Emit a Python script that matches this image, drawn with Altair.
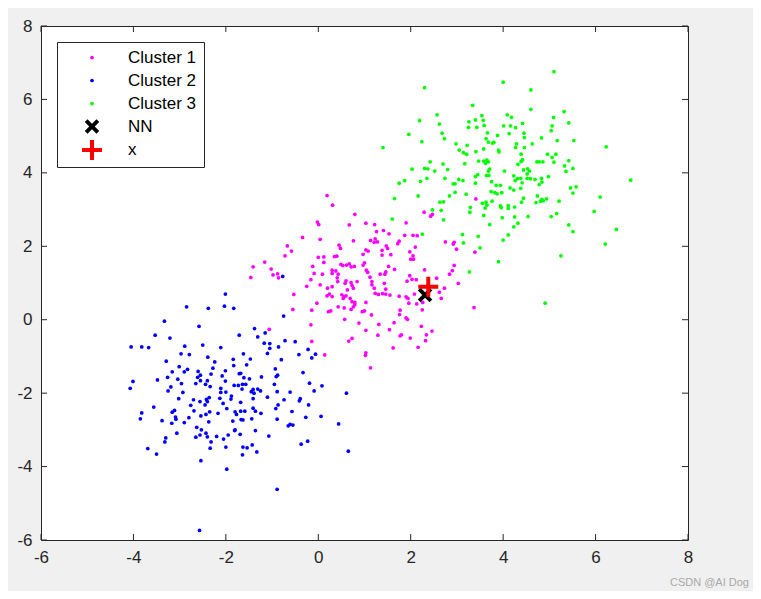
import altair as alt
import pandas as pd

# ---------------- data ----------------
cluster1_points = [
    (0.19, 3.38), (0.31, 3.12), (0.79, 2.87), (-0.02, 2.66), (0.01, 2.59), (0.67, 2.58), (-0.34, 2.24), (0.04, 2.19),
    (0.76, 2.15), (-0.67, 2.01), (-0.58, 1.87), (-0.72, 1.74), (0.45, 2.03), (0.48, 1.94), (0.00, 1.70), (0.12, 1.71),
    (0.35, 1.72), (0.40, 1.73), (0.12, 1.56), (-1.16, 1.57), (-1.41, 1.44), (-1.02, 1.38), (-1.46, 1.15), (-0.98, 1.22),
    (-0.88, 1.25), (-0.86, 1.14), (-0.12, 1.45), (0.30, 1.35), (0.38, 1.33), (0.43, 1.24), (0.41, 1.14), (0.49, 1.51),
    (0.53, 1.48), (0.61, 1.49), (0.67, 1.52), (0.71, 1.44), (0.78, 1.45), (0.30, 1.26), (-0.09, 1.26), (0.09, 1.24),
    (-0.16, 1.09), (0.60, 1.06), (0.58, 0.99), (0.71, 1.01), (-0.25, 0.91), (0.04, 0.95), (0.20, 0.86), (0.30, 0.90),
    (0.42, 1.04), (0.63, 0.81), (0.73, 0.93), (0.76, 0.86), (-0.53, 0.69), (0.19, 0.65), (0.24, 0.70), (0.30, 0.63),
    (0.51, 0.68), (0.56, 0.63), (0.54, 0.58), (0.60, 0.65), (0.73, 0.49), (0.79, 0.47), (-0.03, 0.45), (0.43, 0.35),
    (0.56, 0.32), (0.71, 0.28), (-0.55, 0.28), (-0.14, 0.26), (0.22, 0.22), (0.27, 0.24), (0.57, 0.01), (-0.16, -0.14),
    (-1.06, -0.26), (0.73, -0.51), (0.66, -0.58), (-0.14, -0.59), (0.14, -0.96),
    (2.29, 2.93), (2.47, 2.87), (2.43, 2.82), (1.03, 2.63), (1.22, 2.59), (1.90, 2.64), (1.26, 2.40), (1.41, 2.43),
    (1.53, 2.34), (1.13, 2.16), (1.23, 2.20), (1.28, 2.12), (1.21, 2.11), (1.75, 2.14), (1.72, 2.07), (1.87, 2.30),
    (2.05, 2.30), (2.14, 2.29), (2.75, 2.12), (2.94, 2.11), (2.92, 2.06), (2.99, 1.92), (1.47, 2.01), (1.50, 1.94),
    (2.10, 1.98), (1.03, 1.90), (1.08, 1.87), (1.38, 1.89), (0.97, 1.78), (1.38, 1.76), (1.57, 1.77), (1.98, 1.85),
    (2.05, 1.74), (2.00, 1.65), (2.06, 1.65), (1.00, 1.55), (0.97, 1.49), (1.04, 1.35), (1.07, 1.29), (1.52, 1.45),
    (1.65, 1.37), (1.46, 1.30), (1.44, 1.24), (1.34, 1.24), (2.30, 1.36), (2.94, 1.48), (2.90, 1.34), (2.84, 1.24),
    (1.12, 1.16), (1.16, 1.04), (1.98, 1.20), (2.03, 1.10), (2.12, 1.09), (1.92, 1.05), (2.56, 1.13), (3.03, 0.99),
    (0.84, 1.04), (1.16, 0.95), (1.21, 0.86), (1.43, 0.99), (1.46, 0.83), (1.23, 0.72), (1.30, 0.69), (1.39, 0.71),
    (1.46, 0.70), (1.55, 0.67), (1.75, 0.64), (1.90, 0.62), (2.08, 0.70), (2.62, 0.75), (2.73, 0.86), (2.66, 0.58),
    (0.69, 0.58), (0.79, 0.41), (0.76, 0.35), (1.03, 0.47), (0.95, 0.22), (1.00, 0.24), (1.94, 0.58), (2.13, 0.43),
    (2.26, 0.47), (1.96, 0.45), (1.77, 0.26), (2.25, 0.27), (1.76, 0.14), (1.15, 0.13), (1.90, 0.05), (1.93, 0.01),
    (1.64, -0.08), (0.88, -0.09), (1.31, -0.13), (2.23, -0.18), (1.03, -0.29), (1.54, -0.27), (1.80, -0.41),
    (1.77, -0.44), (2.46, -0.31), (2.34, -0.41), (1.29, -0.42), (1.99, -0.50), (2.32, -0.57), (2.16, -0.75),
    (1.62, -0.77), (1.03, -0.90), (1.02, -0.97), (1.13, -1.31), (3.41, 3.29), (3.39, 1.84), (3.37, 0.33), (2.31, 0.67),
]

cluster2_points = [
    (-2.01, 0.70), (-2.85, 0.35), (-2.38, 0.31), (-2.03, 0.37), (-1.83, 0.31), (-3.33, -0.04), (-2.58, -0.18),
    (-3.53, -0.42), (-3.21, -0.50), (-1.71, -0.42), (-4.05, -0.74), (-3.82, -0.74), (-3.67, -0.76), (-2.89, -0.72),
    (-2.50, -0.69), (-2.11, -0.76), (-2.97, -0.93), (-2.79, -0.95), (-2.39, -1.02), (-1.84, -1.08), (-3.29, -1.13),
    (-2.24, -1.15), (-1.83, -1.25), (-3.01, -1.28), (-3.16, -1.42), (-2.83, -1.35), (-2.90, -1.42), (-2.60, -1.41),
    (-2.28, -1.32), (-2.01, -1.39), (-1.71, -1.47), (-3.26, -1.57), (-2.55, -1.51), (-2.61, -1.57), (-2.32, -1.48),
    (-2.08, -1.53), (-4.01, -1.68), (-3.48, -1.64), (-3.04, -1.62), (-2.55, -1.66), (-2.40, -1.66), (-2.01, -1.67),
    (-2.65, -1.74), (-2.96, -1.74), (-2.44, -1.76), (-4.07, -1.87), (-3.19, -1.83), (-2.34, -1.82), (-2.11, -1.87),
    (-1.82, -1.79), (-1.73, -1.79), (-3.25, -1.94), (-2.93, -1.98), (-2.11, -1.98), (-2.00, -1.97), (-1.88, -2.08),
    (-3.02, -2.15), (-2.70, -2.18), (-2.42, -2.17), (-2.36, -2.12),
    (-1.89, -2.16), (-2.56, -2.23), (-2.40, -2.23), (-2.13, -2.14), (-2.06, -2.28), (-2.45, -2.32), (-2.76, -2.33),
    (-3.56, -2.38), (-1.98, -2.42), (-2.69, -2.48), (-3.11, -2.47), (-3.16, -2.52), (-2.35, -2.51), (-3.82, -2.54),
    (-3.85, -2.70), (-2.17, -2.55), (-2.43, -2.58), (-2.54, -2.62), (-3.09, -2.65), (-3.08, -2.71), (-2.80, -2.67),
    (-3.38, -2.75), (-3.17, -2.82), (-2.90, -2.80), (-2.37, -2.78), (-1.85, -2.76), (-2.63, -2.93), (-2.53, -3.00),
    (-2.43, -3.09), (-3.06, -3.09), (-2.56, -3.14), (-2.65, -3.20), (-2.40, -3.19), (-2.20, -3.18), (-2.05, -3.25),
    (-1.95, -3.14), (-1.81, -3.02), (-3.30, -3.22), (-3.32, -3.33), (-2.32, -3.33), (-2.34, -3.50), (-2.00, -3.47),
    (-3.69, -3.51), (-3.50, -3.66), (-2.54, -3.84), (-1.98, -4.07), (-2.57, -5.74),
    (-0.75, 0.10), (-1.38, -0.24), (-1.15, -0.36), (-1.31, -0.47), (-1.17, -0.64), (-1.05, -0.65), (-0.72, -0.57),
    (-0.50, -0.60), (-0.86, -0.74), (-1.05, -0.78), (-0.22, -0.81), (-1.10, -0.92), (-1.62, -0.93), (-0.42, -0.95),
    (-0.06, -0.94), (-0.14, -1.04), (-1.47, -1.07), (-0.80, -1.09), (-1.55, -1.23), (-0.93, -1.34), (-1.68, -1.46),
    (-0.88, -1.51), (-0.91, -1.55), (-1.23, -1.56), (-1.61, -1.58), (-0.33, -1.44), (-1.49, -1.61), (-1.64, -1.76),
    (-1.57, -1.76), (-0.95, -1.76), (-0.19, -1.73), (0.08, -1.80), (-1.65, -1.89), (-1.41, -1.90), (-1.45, -1.96),
    (-1.39, -2.00), (-1.31, -1.89), (-1.25, -1.94), (-0.89, -1.96), (-0.61, -1.97), (-0.09, -1.94), (0.61, -2.00),
    (-1.10, -2.11), (-0.74, -2.18), (-1.41, -2.15), (-0.39, -2.15), (-0.77, 1.18),
    (-0.41, -2.21), (-1.68, -2.25), (-0.87, -2.32), (-0.21, -2.32), (-0.92, -2.42), (-1.80, -2.51), (-1.77, -2.58),
    (-1.68, -2.49), (-1.59, -2.49), (-1.41, -2.41), (-1.36, -2.49), (-1.24, -2.55), (-0.57, -2.50), (-1.67, -2.72),
    (-1.63, -2.73), (-1.44, -2.70), (-0.89, -2.71), (-0.27, -2.66), (0.06, -2.63), (-0.65, -2.89), (-0.61, -2.85),
    (-0.55, -2.87), (0.44, -2.84), (-1.80, -3.00), (-1.36, -3.02), (-1.69, -3.12), (-1.07, -3.17), (-1.63, -3.47),
    (-1.54, -3.49), (-1.43, -3.41), (-0.37, -3.39), (-0.23, -3.31), (-1.33, -3.60), (-1.64, -3.68), (0.65, -3.58),
    (-0.89, -4.62),
]

cluster3_points = [
    (2.30, 6.32), (3.34, 5.84), (2.57, 5.58), (2.19, 5.42), (2.62, 5.33), (3.26, 5.39), (3.40, 5.44), (3.25, 5.24),
    (3.43, 5.24), (1.96, 5.05), (2.68, 5.08), (2.73, 4.93), (2.24, 4.85), (1.40, 4.69), (2.98, 4.79), (3.22, 4.75),
    (3.05, 4.62), (3.14, 4.55), (3.21, 4.51), (3.41, 4.58), (2.42, 4.30), (2.70, 4.24), (3.47, 4.32), (3.17, 4.25),
    (2.03, 4.10), (2.30, 4.12), (2.37, 4.11), (2.52, 4.05), (2.80, 4.09), (3.45, 3.95), (3.40, 3.90), (2.35, 3.85),
    (2.74, 3.85), (1.87, 3.79), (1.75, 3.72), (2.21, 3.77), (3.04, 3.82), (3.13, 3.79), (2.92, 3.70), (2.96, 3.70),
    (3.40, 3.72), (2.96, 3.47), (3.20, 3.42), (2.84, 3.37), (2.16, 3.37), (1.65, 3.30),
    (2.63, 3.20), (2.71, 3.21), (2.47, 2.99), (2.66, 2.98), (3.29, 3.06), (3.28, 2.93), (1.60, 2.74), (2.71, 2.72),
    (2.25, 2.33), (3.12, 2.32), (3.14, 2.09), (3.46, 2.27), (3.50, 1.96), (3.27, 1.30),
    (5.10, 6.76), (4.00, 6.47), (4.60, 6.26), (4.60, 5.73), (3.54, 5.56), (3.57, 5.43), (3.59, 5.29), (4.09, 5.58),
    (4.18, 5.51), (5.09, 5.51), (5.32, 5.67), (5.42, 5.36), (4.42, 5.35), (4.01, 5.28), (4.16, 5.28), (4.27, 5.23),
    (5.06, 5.28), (5.04, 5.15), (3.66, 5.09), (3.88, 5.02), (4.13, 5.07), (4.45, 5.08), (4.46, 4.96), (3.63, 4.93),
    (3.68, 4.84), (3.80, 4.83), (3.77, 4.81), (4.83, 4.95), (5.17, 4.88), (5.53, 4.88), (4.29, 4.79), (4.27, 4.69),
    (4.63, 4.79), (4.46, 4.69), (3.58, 4.65), (3.90, 4.62), (3.91, 4.57), (6.23, 4.71), (4.39, 4.51), (4.96, 4.51),
    (5.14, 4.51), (5.06, 4.42), (4.42, 4.36), (4.39, 4.31), (3.58, 4.32), (3.65, 4.35), (3.68, 4.30), (3.62, 4.26),
    (4.73, 4.30), (4.78, 4.30), (4.86, 4.30), (5.10, 4.29), (5.42, 4.33), (4.32, 4.23), (5.33, 4.19), (5.51, 4.12),
    (3.71, 4.10), (3.68, 4.05), (4.44, 4.08), (4.53, 4.11), (4.57, 4.05), (4.03, 4.05), (5.36, 4.04), (3.64, 3.93),
    (3.69, 3.93), (4.23, 3.92), (4.52, 3.97), (4.52, 3.85), (4.59, 3.84), (4.98, 3.90), (4.31, 3.84), (4.38, 3.85),
    (4.26, 3.79), (4.69, 3.82), (4.83, 3.85), (4.78, 3.68), (4.41, 3.73), (4.84, 3.75), (3.75, 3.76), (6.76, 3.80),
    (3.85, 3.66), (3.94, 3.66), (4.15, 3.59), (4.23, 3.53), (4.38, 3.58), (5.46, 3.59), (5.58, 3.62), (3.74, 3.49),
    (3.82, 3.46), (3.87, 3.43), (3.97, 3.46), (5.51, 3.45), (4.74, 3.37), (4.44, 3.31), (4.84, 3.28), (4.94, 3.29),
    (6.10, 3.34),
    (4.87, 3.24), (4.81, 3.23), (4.40, 3.20), (4.71, 3.19), (5.21, 3.23), (3.76, 3.23), (3.55, 3.17), (3.63, 3.20),
    (3.65, 3.12), (3.61, 3.04), (3.94, 3.10), (3.96, 3.05), (4.11, 3.11), (4.11, 3.03), (4.25, 3.07), (5.97, 2.95),
    (3.58, 2.84), (3.98, 2.78), (4.25, 2.80), (4.54, 2.81), (5.04, 2.81), (5.16, 2.89), (3.71, 2.59), (4.32, 2.63),
    (4.23, 2.53), (5.42, 2.58), (5.51, 2.40), (6.45, 2.46), (4.11, 2.31), (4.00, 2.17), (6.21, 2.06), (5.25, 1.74),
    (3.90, 1.58), (4.91, 0.45),
]

nn_point = [(2.31, 0.67)]
query_point = [(2.38, 0.90)]

series_names = ["Cluster 1", "Cluster 2", "Cluster 3", "NN", "x"]
series_colors = ["#ff00ff", "#0000ff", "#00ff00", "#000000", "#ff0000"]
series_sizes = [14, 14, 14, 210, 400]
tick_values = [-6, -4, -2, 0, 2, 4, 6, 8]
watermark = "CSDN @AI Dog"

# ---------------- build table ----------------
rows = []
for name, pts in zip(series_names, [cluster1_points, cluster2_points, cluster3_points, nn_point, query_point]):
    for px, py in pts:
        rows.append({"x": px, "y": py, "series": name})
df = pd.DataFrame(rows)
ticks_df = pd.DataFrame({"v": tick_values})

X_PATH = ("M-1,-0.62L-0.62,-1L0,-0.38L0.62,-1L1,-0.62L0.38,0L1,0.62L0.62,1"
          "L0,0.38L-0.62,1L-1,0.62L-0.38,0Z")
PLUS_PATH = "M-1,-0.2L-0.2,-0.2L-0.2,-1L0.2,-1L0.2,-0.2L1,-0.2L1,0.2L0.2,0.2L0.2,1L-0.2,1L-0.2,0.2L-1,0.2Z"

W, H = 647, 514
FONT = "Liberation Sans"
TXT = "#262626"

xscale = alt.Scale(domain=[-6, 8], nice=False, zero=False)
yscale = alt.Scale(domain=[-6, 8], nice=False, zero=False)
xaxis = alt.Axis(values=tick_values, title=None, grid=False, domain=False, ticks=False,
                 labelExpr="datum.value + ''",
                 labelFont=FONT, labelFontSize=17, labelColor=TXT, labelPadding=9, labelFlush=False)
yaxis = alt.Axis(values=tick_values, title=None, grid=False, domain=False, ticks=False,
                 labelExpr="datum.value + ''",
                 labelFont=FONT, labelFontSize=17, labelColor=TXT, labelPadding=9, labelFlush=False)


def xe(field):
    return alt.X(field, type="quantitative", scale=xscale, axis=xaxis)


def ye(field):
    return alt.Y(field, type="quantitative", scale=yscale, axis=yaxis)


leg = alt.Legend(title=None, orient="top-left", offset=16, strokeColor=TXT, fillColor="white",
                 padding=7, labelFont=FONT, labelFontSize=17, labelColor="#000000",
                 symbolOffset=18, labelOffset=26, rowPadding=5, symbolStrokeWidth=0,
                 symbolOpacity=1, cornerRadius=0)

points = alt.Chart(df).mark_point(filled=True, opacity=1, strokeWidth=0).encode(
    x=xe("x"),
    y=ye("y"),
    color=alt.Color("series:N", sort=series_names,
                    scale=alt.Scale(type="ordinal", domain=series_names, range=series_colors), legend=leg),
    shape=alt.Shape("series:N", sort=series_names,
                    scale=alt.Scale(type="ordinal", domain=series_names,
                                    range=["circle", "circle", "circle", X_PATH, PLUS_PATH]),
                    legend=leg),
    size=alt.Size("series:N", sort=series_names,
                  scale=alt.Scale(type="ordinal", domain=series_names, range=series_sizes), legend=leg),
)

tick_bottom = alt.Chart(ticks_df).mark_rule(color=TXT, strokeWidth=1).encode(
    x=xe("v"), y=alt.value(H), y2=alt.value(H - 6))
tick_top = alt.Chart(ticks_df).mark_rule(color=TXT, strokeWidth=1).encode(
    x=xe("v"), y=alt.value(0), y2=alt.value(6))
tick_left = alt.Chart(ticks_df).mark_rule(color=TXT, strokeWidth=1).encode(
    y=ye("v"), x=alt.value(0), x2=alt.value(6))
tick_right = alt.Chart(ticks_df).mark_rule(color=TXT, strokeWidth=1).encode(
    y=ye("v"), x=alt.value(W), x2=alt.value(W - 6))

mark_text = alt.Chart(pd.DataFrame({"t": [watermark]})).mark_text(
    align="right", baseline="middle", font=FONT, fontSize=11, color="#a8a8a8").encode(
    text="t:N", x=alt.value(708), y=alt.value(557))

chart = alt.layer(tick_bottom, tick_top, tick_left, tick_right, points, mark_text).properties(
    width=W, height=H,
    autosize=alt.AutoSizeParams(type="none"),
    padding={"left": 33, "top": 18, "right": 65, "bottom": 51},
    background="#f0f0f0",
).configure_view(stroke=TXT, strokeWidth=1, fill="white")

chart.save("out.html", embed_options={"renderer": "svg", "actions": False})
